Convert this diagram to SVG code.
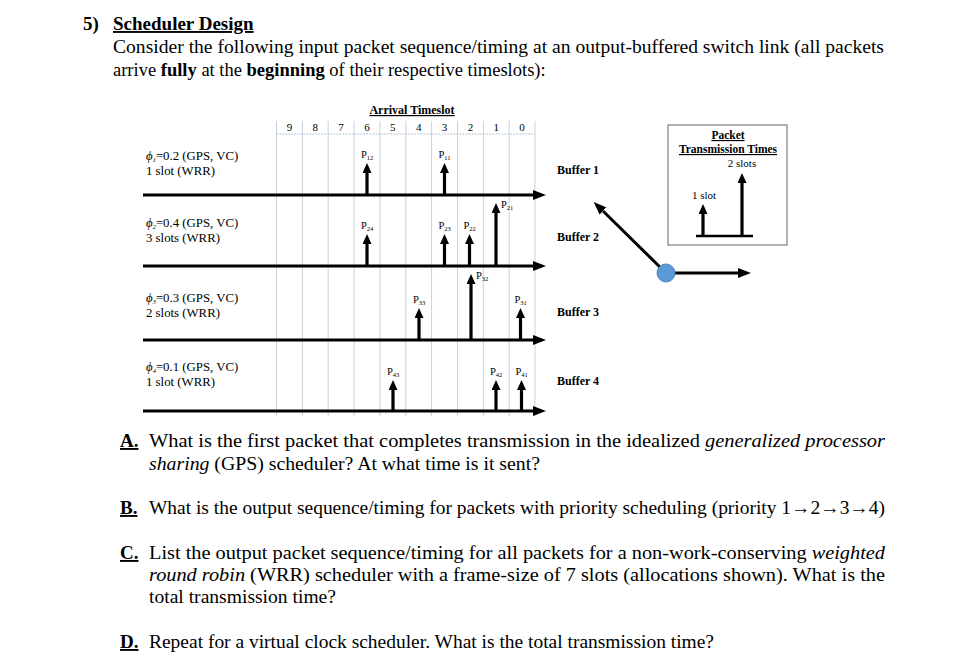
<svg xmlns="http://www.w3.org/2000/svg" width="978" height="667" viewBox="0 0 978 667">
<style>
.t{font-family:"Liberation Serif","Times New Roman",serif;fill:#000}
.h{font-size:18.5px}
.q{font-size:19px}
.b{font-weight:bold}
.u{text-decoration:underline}
.i{font-style:italic}
.s{font-size:12px}
.lb{font-size:12.8px}
.pl{font-size:10.5px}
.sub{font-size:6.5px}
.grid{stroke:#c6d2de;stroke-width:1}
.axis{stroke:#000;stroke-width:3;fill:none}
.pk{stroke:#000;stroke-width:3.2;fill:none}
</style>
<defs>
<marker id="ah" markerUnits="userSpaceOnUse" viewBox="0 0 10 9" markerWidth="10" markerHeight="9" refX="0" refY="4.5" orient="auto">
<path d="M0,0 L10,4.5 L0,9 z" fill="#000"/>
</marker>
<marker id="axh" markerUnits="userSpaceOnUse" viewBox="0 0 13 10" markerWidth="13" markerHeight="10" refX="0" refY="5" orient="auto">
<path d="M0,0 L13,5 L0,10 z" fill="#000"/>
</marker>
</defs>

<rect width="978" height="667" fill="#fff"/>

<g id="header">
<text class="t b" font-size="19" x="83" y="30">5)</text>
<text class="t b u" font-size="19" x="113" y="30">Scheduler Design</text>
<text class="t h" x="113" y="53" textLength="771" lengthAdjust="spacingAndGlyphs">Consider the following input packet sequence/timing at an output-buffered switch link (all packets</text>
<text class="t h" x="113" y="76">arrive <tspan class="b">fully</tspan> at the <tspan class="b">beginning</tspan> of their respective timeslots):</text>
</g>

<g id="timeslot-grid">
<text class="t s b u" x="412" y="114" text-anchor="middle">Arrival Timeslot</text>
<g class="grid">
<line x1="276.5" y1="121" x2="276.5" y2="416"/>
<line x1="302.4" y1="121" x2="302.4" y2="416"/>
<line x1="328.2" y1="121" x2="328.2" y2="416"/>
<line x1="354.1" y1="121" x2="354.1" y2="416"/>
<line x1="379.9" y1="121" x2="379.9" y2="416"/>
<line x1="405.8" y1="121" x2="405.8" y2="416"/>
<line x1="431.6" y1="121" x2="431.6" y2="416"/>
<line x1="457.5" y1="121" x2="457.5" y2="416"/>
<line x1="483.3" y1="121" x2="483.3" y2="416"/>
<line x1="509.2" y1="121" x2="509.2" y2="416"/>
<line x1="535" y1="121" x2="535" y2="416"/>
</g>
<line x1="276.5" y1="134" x2="535" y2="134" stroke="#9fb4cc" stroke-width="1" stroke-dasharray="1.5,1.5"/>
<g class="t" font-size="11" text-anchor="middle">
<text x="289.4" y="131">9</text>
<text x="315.3" y="131">8</text>
<text x="341.1" y="131">7</text>
<text x="367" y="131">6</text>
<text x="392.8" y="131">5</text>
<text x="418.7" y="131">4</text>
<text x="444.5" y="131">3</text>
<text x="470.4" y="131">2</text>
<text x="496.2" y="131">1</text>
<text x="522.1" y="131">0</text>
</g>
</g>

<g id="flow1">
<text class="t lb" x="146" y="160"><tspan class="i">ϕ</tspan><tspan class="i sub" dy="1.5">1</tspan><tspan dy="-1.5">=0.2 (GPS, VC)</tspan></text>
<text class="t lb" x="146" y="175">1 slot (WRR)</text>
<text class="t s b" x="557" y="174">Buffer 1</text>
</g>
<g id="flow2">
<text class="t lb" x="146" y="227"><tspan class="i">ϕ</tspan><tspan class="i sub" dy="1.5">2</tspan><tspan dy="-1.5">=0.4 (GPS, VC)</tspan></text>
<text class="t lb" x="146" y="242">3 slots (WRR)</text>
<text class="t s b" x="557" y="241">Buffer 2</text>
</g>
<g id="flow3">
<text class="t lb" x="146" y="302"><tspan class="i">ϕ</tspan><tspan class="i sub" dy="1.5">3</tspan><tspan dy="-1.5">=0.3 (GPS, VC)</tspan></text>
<text class="t lb" x="146" y="317">2 slots (WRR)</text>
<text class="t s b" x="557" y="316">Buffer 3</text>
</g>
<g id="flow4">
<text class="t lb" x="146" y="371"><tspan class="i">ϕ</tspan><tspan class="i sub" dy="1.5">4</tspan><tspan dy="-1.5">=0.1 (GPS, VC)</tspan></text>
<text class="t lb" x="146" y="386">1 slot (WRR)</text>
<text class="t s b" x="557" y="385">Buffer 4</text>
</g>

<g id="connectors">
<line class="axis" x1="143" y1="195" x2="533" y2="195" marker-end="url(#axh)"/>
<line class="axis" x1="143" y1="266" x2="533" y2="266" marker-end="url(#axh)"/>
<line class="axis" x1="143" y1="340" x2="533" y2="340" marker-end="url(#axh)"/>
<line class="axis" x1="143" y1="411" x2="533" y2="411" marker-end="url(#axh)"/>

<line class="pk" x1="367" y1="195" x2="367" y2="173" marker-end="url(#ah)"/>
<line class="pk" x1="444.5" y1="195" x2="444.5" y2="173" marker-end="url(#ah)"/>

<line class="pk" x1="367" y1="266" x2="367" y2="244" marker-end="url(#ah)"/>
<line class="pk" x1="444.5" y1="266" x2="444.5" y2="244" marker-end="url(#ah)"/>
<line class="pk" x1="469.5" y1="266" x2="469.5" y2="244" marker-end="url(#ah)"/>
<line class="pk" x1="496" y1="266" x2="496" y2="213" marker-end="url(#ah)"/>

<line class="pk" x1="419" y1="340" x2="419" y2="318" marker-end="url(#ah)"/>
<line class="pk" x1="471" y1="340" x2="471" y2="284" marker-end="url(#ah)"/>
<line class="pk" x1="520.5" y1="340" x2="520.5" y2="318" marker-end="url(#ah)"/>

<line class="pk" x1="393" y1="411" x2="393" y2="390" marker-end="url(#ah)"/>
<line class="pk" x1="496" y1="411" x2="496" y2="390" marker-end="url(#ah)"/>
<line class="pk" x1="521.5" y1="411" x2="521.5" y2="390" marker-end="url(#ah)"/>

<line class="axis" x1="666" y1="273" x2="603" y2="211" marker-end="url(#axh)"/>
<line class="axis" x1="666" y1="273" x2="738" y2="273" marker-end="url(#axh)"/>
</g>

<g id="packet-labels" class="t pl">
<text x="361" y="158">P<tspan class="sub" dy="2">12</tspan></text>
<text x="438.5" y="158">P<tspan class="sub" dy="2">11</tspan></text>
<text x="361" y="229">P<tspan class="sub" dy="2">24</tspan></text>
<text x="438.5" y="229">P<tspan class="sub" dy="2">23</tspan></text>
<text x="463.5" y="229">P<tspan class="sub" dy="2">22</tspan></text>
<text x="501" y="208">P<tspan class="sub" dy="2">21</tspan></text>
<text x="413" y="303">P<tspan class="sub" dy="2">33</tspan></text>
<text x="476" y="279">P<tspan class="sub" dy="2">32</tspan></text>
<text x="514.5" y="303">P<tspan class="sub" dy="2">31</tspan></text>
<text x="387" y="375">P<tspan class="sub" dy="2">43</tspan></text>
<text x="490" y="375">P<tspan class="sub" dy="2">42</tspan></text>
<text x="515.5" y="375">P<tspan class="sub" dy="2">41</tspan></text>
</g>

<g id="switch">
<circle cx="666" cy="273" r="9" fill="#5b9bd5" stroke="#4a86be" stroke-width="1"/>
</g>

<g id="legend">
<rect x="668" y="125" width="119" height="120" fill="#fff" stroke="#7f7f7f" stroke-width="1.2"/>
<text class="t b u" font-size="11.5" x="728" y="139" text-anchor="middle">Packet</text>
<text class="t b u" font-size="11.5" x="728" y="153" text-anchor="middle">Transmission Times</text>
<text class="t" font-size="11" x="742" y="167" text-anchor="middle">2 slots</text>
<text class="t" font-size="11" x="704" y="199" text-anchor="middle">1 slot</text>
<line x1="696" y1="236" x2="753" y2="236" stroke="#000" stroke-width="2.5"/>
<line class="pk" x1="703" y1="236" x2="703" y2="214" marker-end="url(#ah)"/>
<line class="pk" x1="742" y1="236" x2="742" y2="183" marker-end="url(#ah)"/>
</g>

<g id="questions" class="t q">
<text class="b u" x="120" y="447">A.</text>
<text x="149" y="447" textLength="736" lengthAdjust="spacingAndGlyphs">What is the first packet that completes transmission in the idealized <tspan class="i">generalized processor</tspan></text>
<text x="149" y="470" textLength="391" lengthAdjust="spacingAndGlyphs"><tspan class="i">sharing</tspan> (GPS) scheduler?  At what time is it sent?</text>
<text class="b u" x="120" y="514">B.</text>
<text x="149" y="514" textLength="736" lengthAdjust="spacingAndGlyphs">What is the output sequence/timing for packets with priority scheduling (priority 1→2→3→4)</text>
<text class="b u" x="120" y="559">C.</text>
<text x="149" y="559" textLength="736" lengthAdjust="spacingAndGlyphs">List the output packet sequence/timing for all packets for a non-work-conserving <tspan class="i">weighted</tspan></text>
<text x="149" y="581" textLength="736" lengthAdjust="spacingAndGlyphs"><tspan class="i">round robin</tspan> (WRR) scheduler with a frame-size of 7 slots (allocations shown). What is the</text>
<text x="149" y="603" textLength="187" lengthAdjust="spacingAndGlyphs">total transmission time?</text>
<text class="b u" x="120" y="648">D.</text>
<text x="149" y="648" textLength="565" lengthAdjust="spacingAndGlyphs">Repeat for a virtual clock scheduler. What is the total transmission time?</text>
</g>
</svg>
